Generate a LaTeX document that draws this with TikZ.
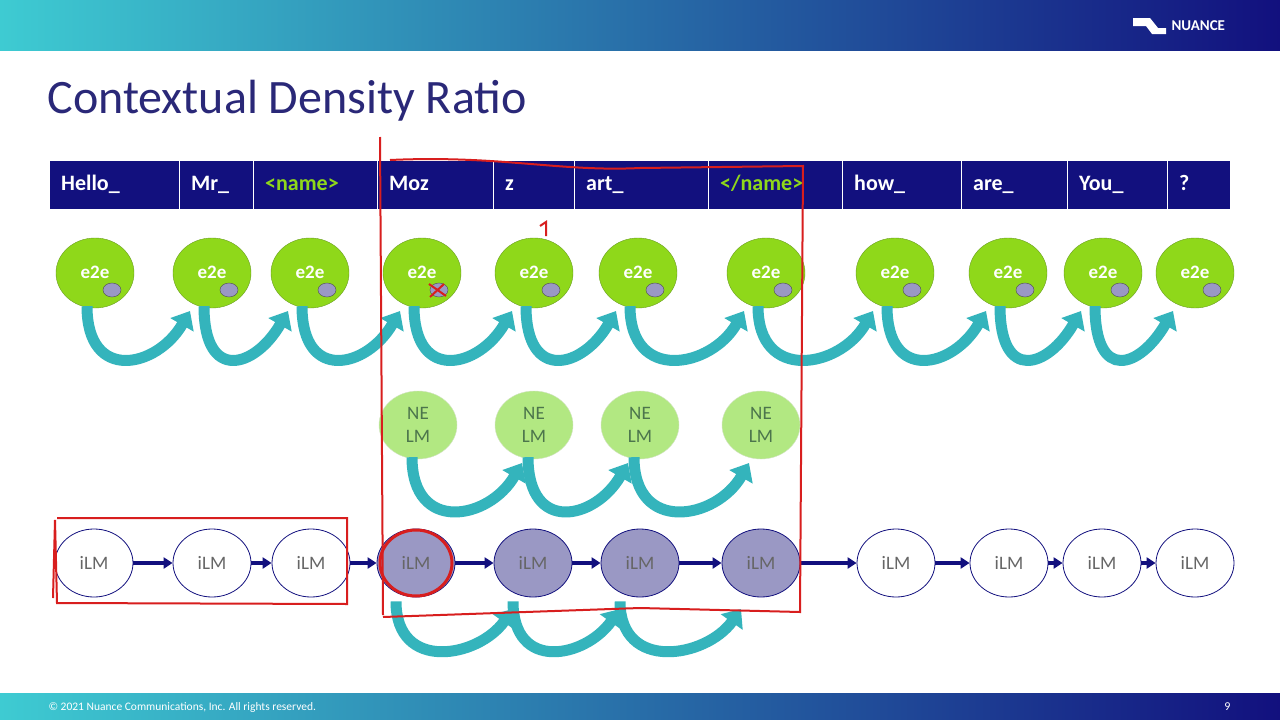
\documentclass[tikz,border=0pt]{standalone}
\usepackage{fontspec}
\setmainfont{Carlito}
\usetikzlibrary{arrows.meta,calc,shapes.geometric}
\definecolor{navy}{HTML}{12107E}
\definecolor{ttl}{HTML}{2A2878}
\definecolor{egreen}{HTML}{8FD81A}
\definecolor{edge}{HTML}{6A9E20}
\definecolor{nelm}{HTML}{B2E882}
\definecolor{teal}{HTML}{34B4BC}
\definecolor{gray2}{HTML}{9A98C4}
\definecolor{redm}{HTML}{D81E1E}
\definecolor{cyanb}{HTML}{3ECBD2}
\newcommand\myclosetag{<\char`\/name>}
\tikzset{
  e2e/.style={ellipse,draw=edge,fill=egreen,minimum width=78pt,minimum height=70pt,inner sep=0pt,text=white,font=\bfseries\fontsize{19}{19}\selectfont},
  ne/.style={ellipse,draw=nelm!80!black!40,fill=nelm,minimum width=78pt,minimum height=68pt,inner sep=0pt,text=black!60!green!40!gray,font=\fontsize{19}{23}\selectfont,align=center},
  ilm/.style={ellipse,draw=navy,thick,fill=white,minimum width=78pt,minimum height=68pt,inner sep=0pt,text=black!60,font=\fontsize{19}{19}\selectfont},
  ilmg/.style={ilm,fill=gray2},
  dot/.style={ellipse,draw=black!70,fill=gray2,minimum width=18pt,minimum height=14pt,inner sep=0pt},
  cell/.style={draw=white,fill=navy,anchor=north west,minimum height=49pt,text=white,font=\bfseries\fontsize{22}{22}\selectfont,text width=#1,inner xsep=12pt,align=left,text height=15pt,text depth=4pt},
  bendarrow/.style={teal,line width=11pt,-{Triangle[width=26pt,length=16pt]}},
  chain/.style={navy,line width=3.5pt,-{Triangle[width=11pt,length=9pt]}},
  redl/.style={redm,line width=2pt},
}
\begin{document}
\begin{tikzpicture}[x=1pt,y=-1pt]
\useasboundingbox (0,0) rectangle (1280,720);
\fill[white] (0,0) rectangle (1280,720);
\shade[left color=cyanb,right color=navy] (0,0) rectangle (1280,50);
\shade[left color=cyanb,right color=navy] (0,693) rectangle (1280,720);
\node[anchor=west,text=white,font=\bfseries\fontsize{15}{15}\selectfont] (logo) at (1168,26) {NUANCE};
\fill[white] (1133,18) -- (1150,18) -- (1158,28) -- (1166,28) -- (1166,34) -- (1152,34) -- (1146,26) -- (1133,26) -- cycle;
\node[anchor=west,text=white,font=\fontsize{11.5}{11.5}\selectfont] (copy) at (45,707) {© 2021 Nuance Communications, Inc. All rights reserved.};
\node[anchor=east,text=white,font=\fontsize{12}{12}\selectfont] (pg) at (1234,707) {9};
\node[anchor=west,text=ttl,font=\fontsize{48}{48}\selectfont] (title) at (44,101) {Contextual Density Ratio};
% header cells
\foreach \a/\b/\t/\c [count=\i] in {49/179/Hello\_/white,179/253/Mr\_/white,253/377/<name>/egreen,377/493/Moz/white,493/574/z/white,574/708/art\_/white,708/842/\myclosetag/egreen,842/961/how\_/white,961/1067/are\_/white,1067/1167/You\_/white,1167/1230/?/white}{
  \pgfmathsetmacro\w{\b-\a-24}
  \node[cell=\w pt,text=\c] (c\i) at (\a,160) {\t};
}
% e2e
\foreach \x [count=\i] in {95,212,310,422,534,638,766,895,1008,1103,1195}{
  \node[e2e] (e\i) at (\x,273) {\raisebox{2pt}{e2e}};
  \node[dot] (d\i) at (\x+17,290) {};
}
\foreach \i [evaluate=\i as \j using int(\i+1)] in {1,...,10}{
  \draw[bendarrow] ($(e\i.south)+(-8,-2)$) .. controls ($(e\i.south)+(-8,75)$) and ($(e\j.center)+(-55,95)$) .. ($(e\j.center)+(-22,38)$);
}
% NE LM
\foreach \x [count=\i] in {418,534,640,761}{
  \node[ne] (n\i) at (\x,425) {NE\\LM};
}
\foreach \i [evaluate=\i as \j using int(\i+1)] in {1,2,3}{
  \draw[bendarrow] ($(n\i.south)+(-6,-2)$) .. controls ($(n\i.south)+(-6,75)$) and ($(n\j.center)+(-45,95)$) .. ($(n\j.center)+(-12,38)$);
}
% iLM
\foreach \x [count=\i] in {94,212,311,416,533,640,761,896,1009,1102,1195}{
  \ifnum\i>3 \ifnum\i<8
    \node[ilmg] (l\i) at (\x,563) {iLM};
  \else
    \node[ilm] (l\i) at (\x,563) {iLM};
  \fi\else
    \node[ilm] (l\i) at (\x,563) {iLM};
  \fi
}
\foreach \i [evaluate=\i as \j using int(\i+1)] in {1,...,10}{
  \draw[chain] (l\i) -- (l\j);
}
\foreach \i [evaluate=\i as \j using int(\i+1)] in {4,5,6}{
  \draw[bendarrow] ($(l\i.south)+(-20,4)$) .. controls ($(l\i.south)+(-20,75)$) and ($(l\j.center)+(-55,95)$) .. ($(l\j.center)+(-20,46)$);
}
% red annotations
\draw[redl] (380,137) -- (383,615);
\draw[redl] (390,160) .. controls (500,155) and (560,172) .. (640,168) -- (803,166) -- (800,612) -- (640,608) -- (383,617);
\draw[redl] (57,518) -- (347,518) -- (347,604) -- (57,603) -- (55,520) (55,520) -- (53,598);
\draw[redm,line width=3pt] (l4) ellipse (36pt and 33pt);
\draw[redm,line width=2pt] (429,284) -- (446,296) (444,284) -- (430,297);
\draw[redm,line width=2pt] (540,226) -- (546,222) -- (546,236);
\end{tikzpicture}
\end{document}
